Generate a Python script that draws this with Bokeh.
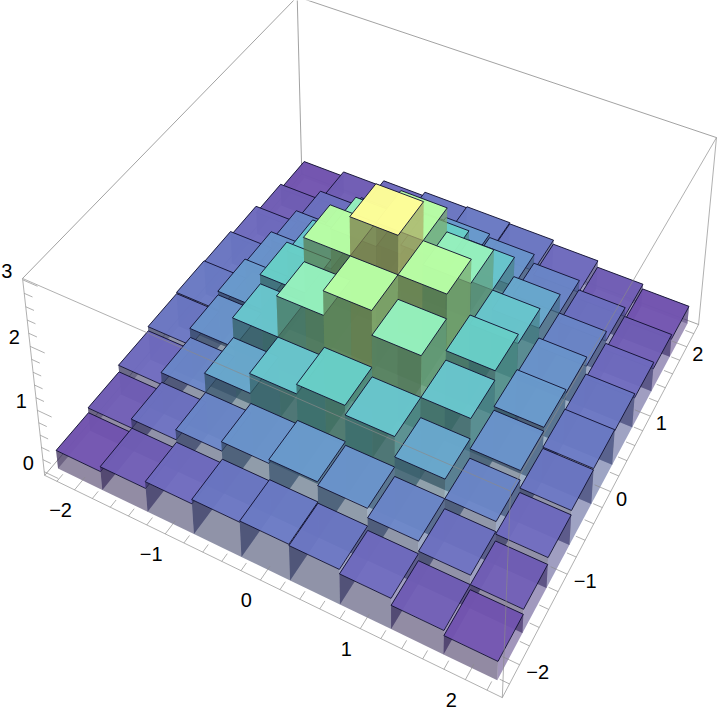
import numpy as np
from bokeh.plotting import figure
from bokeh.models import ColumnDataSource
from bokeh.core.properties import value
from bokeh.embed import file_html
from bokeh.resources import INLINE

xs_grid = [-2, -1.5, -1, -0.5, 0, 0.5, 1, 1.5, 2]
ys_grid = [-2, -1.5, -1, -0.5, 0, 0.5, 1, 1.5, 2]
# heights: row = y value, column = x value
z_row_m20 = [.30, .38, .49, .56, .58, .56, .49, .38, .30]
z_row_m15 = [.38, .53, .69, .84, .90, .84, .69, .53, .38]
z_row_m10 = [.49, .69, 1.00, 1.32, 1.47, 1.32, 1.00, .69, .49]
z_row_m05 = [.56, .84, 1.32, 1.97, 2.35, 1.97, 1.32, .84, .56]
z_row_000 = [.58, .90, 1.47, 2.35, 2.95, 2.35, 1.47, .90, .58]
z_row_p05 = [.56, .84, 1.32, 1.97, 2.35, 1.97, 1.32, .84, .56]
z_row_p10 = [.49, .69, 1.00, 1.32, 1.47, 1.32, 1.00, .69, .49]
z_row_p15 = [.38, .53, .69, .84, .90, .84, .69, .53, .38]
z_row_p20 = [.30, .38, .49, .56, .58, .56, .49, .38, .30]
Z = np.array([z_row_m20, z_row_m15, z_row_m10, z_row_m05, z_row_000, z_row_p05, z_row_p10, z_row_p15, z_row_p20])

tick_major = [-2, -1, 0, 1, 2]
tick_z = [0, 1, 2, 3]

# view calibration: the box corners as they appear on the page
XM, YM, ZMIN, ZMAX = 2.34, 2.34, -0.06, 3.02
world = [(-XM,-YM,ZMIN),(XM,-YM,ZMIN),(XM,YM,ZMIN),(-XM,YM,ZMIN),
         (-XM,-YM,ZMAX),(XM,-YM,ZMAX),(XM,YM,ZMAX),(-XM,YM,ZMAX)]
page = [(46,477),(500,697),(697,328),(302,168),(20,278),(512,488),(717,135),(296,0)]
A = []
for (X,Y,W),(u,v) in zip(world,page):
    A.append([X,Y,W,1,0,0,0,0,-u*X,-u*Y,-u*W,-u])
    A.append([0,0,0,0,X,Y,W,1,-v*X,-v*Y,-v*W,-v])
P = np.linalg.svd(np.array(A))[2][-1].reshape(3,4)

def proj(pts):
    pts = np.array(pts, dtype=float)
    h = np.c_[pts, np.ones(len(pts))] @ P.T
    return list(h[:,0]/h[:,2]), list(h[:,1]/h[:,2])

stops_z = [0.30, 0.49, 0.58, 0.9, 1.0, 1.32, 1.47, 1.97, 2.35, 2.95]
stops_c = [(114,84,176),(110,106,190),(106,122,196),(106,155,205),(105,168,205),(105,198,205),(105,208,200),(150,242,190),(185,255,165),(255,255,153)]
def colour(z):
    return [np.interp(z, stops_z, [c[k] for c in stops_c]) for k in range(3)]
def hexc(c, s=1.0):
    return "#%02x%02x%02x" % tuple(int(min(255,max(0,v*s))) for v in c)

fx, fy, fc, fa, lc, la, lw = [], [], [], [], [], [], []
def face(pts, col, alpha, lcol, lalpha, width):
    u, v = proj(pts)
    fx.append(u); fy.append(v); fc.append(col); fa.append(alpha); lc.append(lcol); la.append(lalpha); lw.append(width)

HW = 0.25
for i in range(9):
    for j in range(8, -1, -1):
        x, y, z = xs_grid[i], ys_grid[j], float(Z[j, i])
        c = colour(z)
        x0, x1, y0, y1 = x-HW, x+HW, y-HW, y+HW
        face([(x0,y0,0),(x0,y1,0),(x0,y1,z),(x0,y0,z)], hexc(c,0.45), 0.4, "#222244", 0.0, 0.5)
        face([(x0,y1,0),(x1,y1,0),(x1,y1,z),(x0,y1,z)], hexc(c,0.45), 0.4, "#222244", 0.0, 0.5)
        face([(x1,y0,0),(x1,y1,0),(x1,y1,z),(x1,y0,z)], hexc(c,0.75), 0.55, "#222244", 0.0, 0.5)
        face([(x0,y0,0),(x1,y0,0),(x1,y0,z),(x0,y0,z)], hexc(c,0.5), 0.55, "#222244", 0.0, 0.5)
        face([(x0,y0,z),(x1,y0,z),(x1,y1,z),(x0,y1,z)], hexc(c), 0.97, "#101030", 0.9, 1.0)

p = figure(width=720, height=718, x_range=(0,720), y_range=(718,0), output_backend="svg",
           toolbar_location=None, min_border=0)
p.axis.visible = False
p.grid.visible = False
p.outline_line_color = None
p.background_fill_color = "white"

BOX = "#8a8a8a"
def seg(a, b, src):
    u, v = proj([a, b]); src[0].append(u); src[1].append(v)

back = ([], [])
for a, b in [(world[3],world[7]),(world[7],world[4]),(world[7],world[6]),(world[3],world[0]),(world[3],world[2])]:
    seg(a, b, back)
p.multi_line(back[0], back[1], line_color=BOX, line_width=0.8)

p.patches("xs","ys", source=ColumnDataSource(dict(xs=fx, ys=fy, fc=fc, fa=fa, lc=lc, la=la, lw=lw)),
          fill_color="fc", fill_alpha="fa", line_color="lc", line_alpha="la", line_width="lw")

front = ([], [])
for a, b in [(world[0],world[1]),(world[1],world[2]),(world[0],world[4]),(world[1],world[5]),(world[2],world[6]),
             (world[4],world[5]),(world[5],world[6])]:
    seg(a, b, front)
for t in np.arange(-2.2, 2.21, 0.2):
    t = round(float(t), 1)
    d = 0.16 if abs(t-round(t)) < 1e-6 else 0.09
    seg((t,-YM,ZMIN),(t,-YM+d,ZMIN),front)
    seg((XM,t,ZMIN),(XM-d,t,ZMIN),front)
for t in np.arange(0, 3.01, 0.2):
    t = round(float(t), 1)
    d = 0.16 if abs(t-round(t)) < 1e-6 else 0.09
    seg((-XM,-YM,t),(-XM+d,-YM,t),front)
p.multi_line(front[0], front[1], line_color=BOX, line_width=0.8, line_alpha=0.85)

tx, ty, tt = [], [], []
def fmt(t): return str(t).replace("-", "\u2212")
for t in tick_major:
    u, v = proj([(t,-YM,ZMIN)]); tx.append(u[0]-14); ty.append(v[0]+20); tt.append(fmt(t))
    u, v = proj([(XM,t,ZMIN)]); tx.append(u[0]+(18 if t < 0 else 11)); ty.append(v[0]+7); tt.append(fmt(t))
for t in tick_z:
    u, v = proj([(-XM,-YM,t)]); tx.append(u[0]-16); ty.append(v[0]-9); tt.append(fmt(t))
p.text(tx, ty, text=tt, text_font=value("Liberation Sans"), text_font_size="20px",
       text_align="center", text_baseline="middle", text_color="black")

open("out.html","w").write(file_html(p, INLINE))
